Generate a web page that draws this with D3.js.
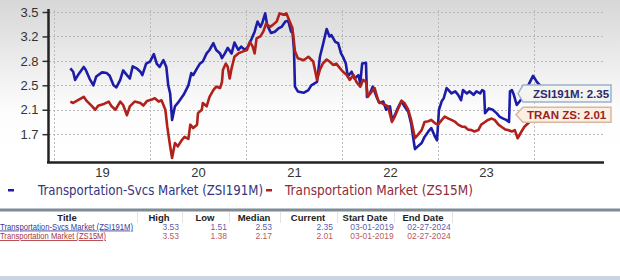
<!DOCTYPE html>
<html>
<head>
<meta charset="utf-8">
<script src="https://cdnjs.cloudflare.com/ajax/libs/d3/7.8.5/d3.min.js"></script>
<style>
  body { margin: 0; background: #fff; }
  svg { display: block; font-family: "Liberation Sans", Arial, sans-serif; }
</style>
</head>
<body>
<div id="chart"></div>
<script>
        // ---- data ----
        var svcsDates = [2019.17,2019.20,2019.22,2019.25,2019.31,2019.33,2019.37,2019.41,2019.44,2019.50,2019.55,2019.58,2019.62,2019.65,2019.69,2019.72,2019.76,2019.79,2019.82,2019.86,2019.90,2019.92,2019.96,
            2020.00,2020.04,2020.07,2020.10,2020.14,2020.17,2020.19,2020.21,2020.23,2020.26,2020.29,2020.35,2020.40,2020.43,2020.45,2020.49,2020.52,2020.55,2020.59,2020.62,2020.66,2020.69,2020.73,2020.75,2020.78,2020.81,2020.85,2020.88,2020.92,2020.95,2020.99,
            2021.02,2021.06,2021.09,2021.12,2021.15,2021.17,2021.20,2021.22,2021.26,2021.30,2021.34,2021.37,2021.41,2021.44,2021.47,2021.48,2021.50,2021.51,2021.54,2021.60,2021.65,2021.68,2021.74,2021.77,2021.80,2021.84,2021.87,2021.89,2021.93,2021.96,2021.99,
            2022.01,2022.04,2022.06,2022.10,2022.13,2022.17,2022.19,2022.21,2022.25,2022.26,2022.29,2022.32,2022.36,2022.39,2022.43,2022.46,2022.50,2022.52,2022.55,2022.58,2022.62,2022.65,2022.69,2022.72,2022.75,2022.76,2022.79,2022.83,2022.86,2022.90,2022.93,2022.97,2022.99,
            2023.01,2023.04,2023.06,2023.09,2023.11,2023.14,2023.18,2023.21,2023.24,2023.26,2023.30,2023.33,2023.37,2023.40,2023.44,2023.46,2023.48,2023.49,2023.53,2023.57,2023.61,2023.64,2023.68,2023.71,2023.74,2023.75,2023.77,2023.79,2023.82,2023.86,2023.94,2023.99,
            2024.03,2024.08,2024.12,2024.16];
        var svcsValues = [2.70,2.65,2.53,2.60,2.72,2.68,2.55,2.45,2.58,2.64,2.63,2.59,2.45,2.42,2.53,2.67,2.60,2.55,2.73,2.70,2.65,2.60,2.77,
            2.80,2.91,2.77,2.72,2.82,2.72,2.45,2.33,1.94,2.14,2.19,2.31,2.45,2.63,2.60,2.70,2.77,2.80,2.92,2.97,3.07,2.97,2.92,2.85,2.92,3.00,2.92,3.08,2.97,3.02,2.97,
            3.02,3.14,3.24,3.39,3.31,3.37,3.51,3.34,3.22,3.24,3.29,3.31,3.39,3.40,3.24,3.31,2.97,2.43,2.36,2.34,2.38,2.45,2.50,2.87,3.04,3.28,3.17,3.19,3.09,3.07,2.92,
            2.87,2.77,2.58,2.65,2.55,2.60,2.48,2.77,2.78,2.28,2.33,2.43,2.28,2.19,2.21,2.09,2.14,1.94,2.01,2.11,2.22,2.14,2.06,1.89,1.60,1.51,1.55,1.60,1.69,1.77,1.82,1.69,1.64,
            2.09,2.22,2.26,2.41,2.38,2.33,2.36,2.31,2.23,2.38,2.33,2.36,2.31,2.36,2.33,2.38,2.36,2.04,2.11,2.09,2.04,1.99,1.96,1.94,1.91,2.36,2.38,2.31,2.16,2.23,2.45,2.59,
            2.50,2.42,2.38,2.35];

        var tranDates = [2019.17,2019.20,2019.25,2019.31,2019.34,2019.39,2019.43,2019.46,2019.51,2019.57,2019.60,2019.64,2019.69,2019.72,2019.76,2019.79,2019.84,2019.90,2019.93,2019.97,
            2020.02,2020.05,2020.09,2020.12,2020.16,2020.18,2020.21,2020.23,2020.26,2020.29,2020.33,2020.36,2020.40,2020.42,2020.45,2020.49,2020.50,2020.54,2020.55,2020.59,2020.62,2020.66,2020.69,2020.73,2020.75,2020.76,2020.79,2020.81,2020.83,2020.85,2020.88,2020.92,2020.97,
            2021.01,2021.04,2021.07,2021.09,2021.11,2021.15,2021.18,2021.21,2021.25,2021.28,2021.32,2021.35,2021.39,2021.42,2021.45,2021.47,2021.49,2021.51,2021.54,2021.60,2021.65,2021.70,2021.74,2021.77,2021.80,2021.84,2021.87,2021.91,2021.94,2021.98,
            2022.01,2022.05,2022.08,2022.12,2022.15,2022.19,2022.22,2022.25,2022.27,2022.31,2022.34,2022.38,2022.41,2022.45,2022.48,2022.52,2022.55,2022.58,2022.62,2022.65,2022.69,2022.72,2022.76,2022.79,2022.83,2022.86,2022.90,2022.93,2022.97,
            2023.00,2023.04,2023.07,2023.11,2023.14,2023.18,2023.21,2023.25,2023.28,2023.31,2023.35,2023.38,2023.42,2023.45,2023.49,2023.52,2023.56,2023.59,2023.63,2023.66,2023.70,2023.73,2023.77,2023.80,2023.83,2023.87,2023.90,2023.96,
            2024.04,2024.10,2024.16];
        var tranValues = [2.21,2.19,2.23,2.28,2.22,2.15,2.09,2.15,2.17,2.21,2.14,2.09,2.21,2.16,2.01,2.14,2.21,2.19,2.15,2.22,
            2.24,2.26,2.21,2.23,2.09,1.84,1.55,1.38,1.60,1.55,1.64,1.69,1.66,1.87,1.82,1.87,2.04,2.09,2.19,2.14,2.28,2.38,2.43,2.41,2.50,2.68,2.77,2.72,2.55,2.70,2.87,2.92,2.95,
            2.97,3.09,3.02,2.92,3.14,3.17,3.24,3.36,3.31,3.34,3.39,3.51,3.49,3.51,3.41,3.34,3.22,2.95,2.85,2.82,2.87,2.80,2.53,2.68,2.77,2.83,2.80,2.75,2.77,2.70,
            2.65,2.60,2.53,2.60,2.50,2.43,2.53,2.50,2.28,2.36,2.41,2.21,2.19,2.16,2.14,1.91,1.99,2.09,2.22,2.19,2.09,1.94,1.67,1.72,1.79,1.91,1.92,1.94,1.89,
            1.87,1.94,1.99,1.96,1.94,1.91,1.87,1.84,1.84,1.80,1.79,1.77,1.79,1.87,1.91,1.94,1.96,1.94,1.87,1.84,1.80,1.79,1.77,1.79,1.67,1.77,1.84,1.92,
            1.98,1.96,2.01];

        var yTickValues = [1.73, 2.09, 2.45, 2.81, 3.17, 3.53];
        var yTickLabels = ["1.7", "2.1", "2.5", "2.8", "3.2", "3.5"];
        var gridYears = [2019, 2020, 2021, 2022, 2023, 2024];
        var yearLabels = ["19", "20", "21", "22", "23"];

        var seriesNames = ["Transportation-Svcs Market (ZSI191M)", "Transportation Market (ZS15M)"];
        var seriesTags = ["ZSI191M", "TRAN ZS"];
        var tableHeaders = ["Title", "High", "Low", "Median", "Current", "Start Date", "End Date"];
        var tableHigh = ["3.53", "3.53"];
        var tableLow = ["1.51", "1.38"];
        var tableMedian = ["2.53", "2.17"];
        var tableCurrent = ["2.35", "2.01"];
        var tableStart = ["03-01-2019", "03-01-2019"];
        var tableEnd = ["02-27-2024", "02-27-2024"];

        var width = 620;
        var height = 280;

        var lineColors = ["#1c1ca8", "#b0211c"];
        var textColors = ["#34347e", "#8e2c3a"];

        var svg = d3.select("#chart")
                    .append("svg")
                    .attr("width", width)
                    .attr("height", height);

        // grey fade behind the plot
        var grad = svg.append("defs").append("linearGradient")
            .attr("id", "bgfade")
            .attr("x1", 0).attr("y1", 0).attr("x2", 0).attr("y2", 1);
        grad.append("stop").attr("offset", "0%").attr("stop-color", "#d7d7d7");
        grad.append("stop").attr("offset", "70%").attr("stop-color", "#fdfdfd");
        grad.append("stop").attr("offset", "100%").attr("stop-color", "#ffffff");

        svg.append("rect")
            .attr("x", 0).attr("y", 0)
            .attr("width", width).attr("height", 160)
            .attr("fill", "url(#bgfade)");

        var x = d3.scaleLinear()
            .domain([2019, 2024.1667])
            .range([54, 550]);

        var y = d3.scaleLinear()
            .domain([1.32, 3.53])
            .range([162, 12]);

        // grid
        var grid = svg.append("g").attr("class", "grid");
        grid.selectAll(".hgrid")
            .data(yTickValues)
            .enter().append("line")
            .attr("x1", 49).attr("x2", 604)
            .attr("y1", function(d){ return Math.round(y(d)) + 0.5; })
            .attr("y2", function(d){ return Math.round(y(d)) + 0.5; })
            .attr("stroke", "#b9b9b9")
            .attr("stroke-dasharray", "2,2");
        grid.selectAll(".vgrid")
            .data(gridYears)
            .enter().append("line")
            .attr("x1", function(d){ return Math.round(x(d)) + 0.5; })
            .attr("x2", function(d){ return Math.round(x(d)) + 0.5; })
            .attr("y1", 10).attr("y2", 162)
            .attr("stroke", "#b9b9b9")
            .attr("stroke-dasharray", "2,2");

        // lines
        var svcsData = svcsDates.map(function(d, i){ return [d, svcsValues[i]]; });
        var tranData = tranDates.map(function(d, i){ return [d, tranValues[i]]; });

        var line = d3.line()
            .x(function(d){ return x(d[0]); })
            .y(function(d){ return y(d[1]); });

        svg.append("g")
            .selectAll("path")
            .data([svcsData, tranData])
            .enter().append("path")
            .attr("d", line)
            .attr("fill", "none")
            .attr("stroke", function(d, i){ return lineColors[i]; })
            .attr("stroke-width", 2.6)
            .attr("stroke-linejoin", "round");

        // y axis
        var yAxis = d3.axisLeft(y)
            .tickValues(yTickValues)
            .tickFormat(function(d, i){ return yTickLabels[i]; })
            .tickSize(6)
            .tickSizeOuter(0)
            .tickPadding(4);

        var yg = svg.append("g")
            .attr("transform", "translate(48.5,0)")
            .call(yAxis);
        yg.select(".domain").remove();
        yg.selectAll(".tick line").attr("stroke", "#333").attr("stroke-width", 1.5);
        yg.selectAll(".tick text")
            .attr("fill", "#333")
            .style("font-size", "13px")
            .style("font-family", "'Liberation Sans', Arial, sans-serif");

        svg.append("line")
            .attr("x1", 48.5).attr("x2", 48.5)
            .attr("y1", 9).attr("y2", 163)
            .attr("stroke", "#222").attr("stroke-width", 2.5);
        svg.append("line")
            .attr("x1", 47).attr("x2", 604)
            .attr("y1", 162.5).attr("y2", 162.5)
            .attr("stroke", "#222").attr("stroke-width", 2.5);

        // x labels sit in the middle of each year
        var xAxis = d3.axisBottom(x)
            .tickValues(yearLabels.map(function(d, i){ return gridYears[i] + 0.5; }))
            .tickFormat(function(d, i){ return yearLabels[i]; })
            .tickSize(0)
            .tickPadding(5);

        var xg = svg.append("g")
            .attr("transform", "translate(0,163)")
            .call(xAxis);
        xg.select(".domain").remove();
        xg.selectAll(".tick text")
            .attr("fill", "#333")
            .style("font-size", "13px")
            .style("font-family", "'Liberation Sans', Arial, sans-serif");

        // current value tags
        var lastVals = [svcsValues[svcsValues.length - 1], tranValues[tranValues.length - 1]];
        var tagFill = ["#f3f3ef", "#fbeee2"];
        var tagStroke = ["#9fb1cb", "#d9b79e"];
        var tagText = ["#2b2b6e", "#9a2222"];
        var tagHalf = [8.5, 7.5];

        var tags = svg.append("g")
            .selectAll("g")
            .data(lastVals)
            .enter().append("g");

        tags.append("path")
            .attr("d", function(d, i){
                var cy = y(d) + (i == 0 ? 1.5 : -0.5);
                var h = tagHalf[i];
                return "M" + (518 - i * 2) + "," + cy +
                       "L523," + (cy - h) + "L611," + (cy - h) +
                       "L611," + (cy + h) + "L523," + (cy + h) + "Z";
            })
            .attr("fill", function(d, i){ return tagFill[i]; })
            .attr("stroke", function(d, i){ return tagStroke[i]; })
            .attr("stroke-width", 1.5);

        tags.append("text")
            .attr("x", function(d, i){ return i == 0 ? 533 : 527; })
            .attr("y", function(d, i){ return y(d) + (i == 0 ? 5.5 : 3.5); })
            .attr("fill", function(d, i){ return tagText[i]; })
            .style("font-size", "11.5px")
            .style("font-weight", "bold")
            .text(function(d, i){ return seriesTags[i] + ": " + d3.format(".2f")(d); });

        // legend
        var legendX = [8, 266];
        var legend = svg.append("g")
            .selectAll("g")
            .data(seriesNames)
            .enter().append("g");
        legend.append("rect")
            .attr("x", function(d, i){ return legendX[i]; })
            .attr("y", 189)
            .attr("width", 6).attr("height", 2.5)
            .attr("fill", function(d, i){ return lineColors[i]; });
        legend.append("text")
            .attr("x", function(d, i){ return legendX[i] + 30 - i * 11; })
            .attr("y", 195)
            .attr("fill", function(d, i){ return textColors[i]; })
            .attr("textLength", function(d, i){ return i == 0 ? 225 : 188; })
            .attr("lengthAdjust", "spacingAndGlyphs")
            .style("font-size", "13.5px")
            .style("font-family", "'DejaVu Sans', Verdana, sans-serif")
            .text(function(d){ return d; });

        // table
        svg.append("rect")
            .attr("x", 0).attr("y", 208.5)
            .attr("width", width).attr("height", 3)
            .attr("fill", "#7f8c96");

        var colSep = [137, 182, 229, 280, 337, 394, 452];
        var headX = [67, 159, 205, 254, 308, 365, 423];

        svg.append("g")
            .selectAll("line")
            .data(colSep)
            .enter().append("line")
            .attr("x1", function(d){ return d + 0.5; })
            .attr("x2", function(d){ return d + 0.5; })
            .attr("y1", 212).attr("y2", 223)
            .attr("stroke", "#e2e2e2");

        svg.append("g")
            .selectAll("text")
            .data(tableHeaders)
            .enter().append("text")
            .attr("x", function(d, i){ return headX[i]; })
            .attr("y", 221)
            .attr("text-anchor", "middle")
            .attr("fill", "#222")
            .style("font-size", "9.5px")
            .style("font-weight", "bold")
            .style("font-family", "'Liberation Sans Narrow', 'Liberation Sans', Arial, sans-serif")
            .text(function(d){ return d; });

        var rowColors = ["#3a3a96", "#a8363a"];
        var rowY = [229.5, 239];
        var numCols = [tableHigh, tableLow, tableMedian, tableCurrent];
        var numRight = [179, 227, 272, 333];

        var rows = svg.append("g")
            .selectAll("g")
            .data(seriesNames)
            .enter().append("g");

        rows.append("text")
            .attr("x", 0)
            .attr("y", function(d, i){ return rowY[i]; })
            .attr("fill", function(d, i){ return rowColors[i]; })
            .attr("textLength", function(d, i){ return i == 0 ? 133 : 106; })
            .attr("lengthAdjust", "spacingAndGlyphs")
            .style("font-size", "8.5px")
            .style("text-decoration", "underline")
            .text(function(d){ return d; });

        numCols.forEach(function(col, c){
            rows.append("text")
                .attr("x", numRight[c])
                .attr("y", function(d, i){ return rowY[i]; })
                .attr("text-anchor", "end")
                .attr("fill", function(d, i){ return rowColors[i]; })
                .attr("fill-opacity", 0.85)
                .style("font-size", "8.5px")
                .text(function(d, i){ return col[i]; });
        });
        [tableStart, tableEnd].forEach(function(col, c){
            rows.append("text")
                .attr("x", c == 0 ? 372 : 429)
                .attr("y", function(d, i){ return rowY[i]; })
                .attr("text-anchor", "middle")
                .attr("fill", function(d, i){ return rowColors[i]; })
                .attr("fill-opacity", 0.85)
                .style("font-size", "8.5px")
                .text(function(d, i){ return col[i]; });
        });

        // bottom band
        svg.append("rect")
            .attr("x", 0).attr("y", 276)
            .attr("width", width).attr("height", 4)
            .attr("fill", "#c8d6e4");
</script>
</body>
</html>
